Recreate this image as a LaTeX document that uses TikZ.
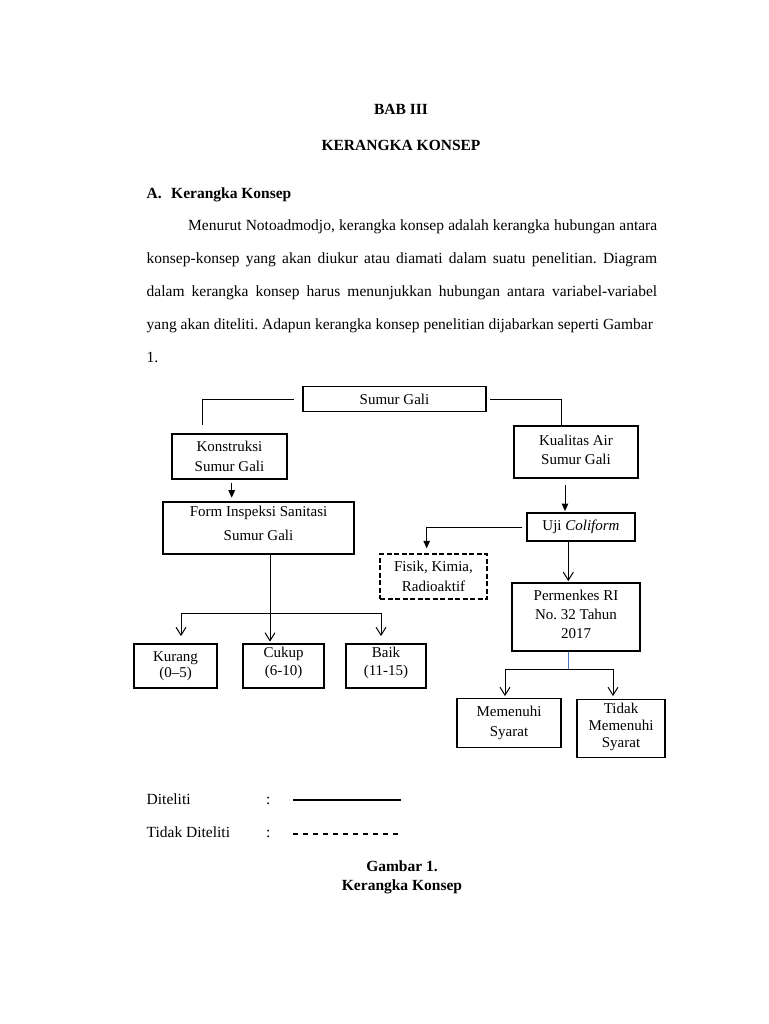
\documentclass[tikz,border=0pt]{standalone}
\usepackage{fontspec}
\setmainfont{Liberation Serif}
\usetikzlibrary{arrows.meta,calc}
\definecolor{linkblue}{RGB}{68,120,200}
\frenchspacing
\begin{document}
\begin{tikzpicture}[x=1pt,y=-1pt,
  txt/.style={inner sep=0pt,font=\fontsize{15.5}{20}\selectfont},
  boxn/.style={draw,line width=1.8pt,inner sep=0pt,align=center,font=\fontsize{15}{20}\selectfont},
  dboxn/.style={boxn,dash pattern=on 5pt off 2.5pt},
  conn/.style={line width=1pt},
  farrow/.style={conn,-{Triangle[length=7.5pt,width=6.5pt]}},
  oarrow/.style={conn,-{Straight Barb[length=8pt,width=10pt]}}]
\useasboundingbox (0,0) rectangle (768,1024);
\fill[white] (0,0) rectangle (768,1024);

% headings
\node[txt,anchor=base] (bab) at (401,115) {\bfseries BAB III};
\node[txt,anchor=base] (kk) at (401,151) {\bfseries KERANGKA KONSEP};
\node[txt,anchor=base west] (secA) at (146.5,199) {\bfseries A.};
\node[txt,anchor=base west] (secT) at (171,199) {\bfseries Kerangka Konsep};

% paragraph
\node[txt,anchor=base west] (p1) at (188,230) {\makebox[469pt][s]{Menurut Notoadmodjo, kerangka konsep adalah kerangka hubungan antara}};
\node[txt,anchor=base west] (p2) at (146.5,263) {\makebox[510.5pt][s]{konsep-konsep yang akan diukur atau diamati dalam suatu penelitian. Diagram}};
\node[txt,anchor=base west] (p3) at (146.5,296) {\makebox[510.5pt][s]{dalam kerangka konsep harus menunjukkan hubungan antara variabel-variabel}};
\node[txt,anchor=base west] (p4) at (146.5,329) {yang akan diteliti. Adapun kerangka konsep penelitian dijabarkan seperti Gambar};
\node[txt,anchor=base west] (p5) at (146.5,362) {1.};

% boxes
\node[boxn,minimum width=183pt,minimum height=25pt] (sg) at (394.5,399) {Sumur Gali};
\node[boxn,minimum width=115pt,minimum height=45pt] (ks) at (229.5,456.5) {Konstruksi\\Sumur Gali};
\node[boxn,minimum width=124pt,minimum height=52pt,font=\fontsize{15}{18.5}\selectfont] (ka) at (576,452) {Kualitas Air\\Sumur Gali\rule[-4pt]{0pt}{0pt}};
\node[boxn,minimum width=191pt,minimum height=52pt,font=\fontsize{15}{24}\selectfont] (fi) at (258.5,528) {Form Inspeksi Sanitasi\\Sumur Gali\rule[-10pt]{0pt}{0pt}};
\node[boxn,minimum width=108pt,minimum height=28pt] (uc) at (581,527) {Uji \textit{Coliform}};
\node[dboxn,minimum width=107pt,minimum height=45pt] (fk) at (433.5,576.7) {Fisik, Kimia,\\Radioaktif};
\node[boxn,minimum width=128pt,minimum height=68pt,font=\fontsize{15}{19}\selectfont] (pr) at (576,617) {Permenkes RI\\No. 32 Tahun\\2017\rule[-6pt]{0pt}{0pt}};
\node[boxn,minimum width=83pt,minimum height=44pt,font=\fontsize{15}{16}\selectfont] (ku) at (175.5,666) {Kurang\\(0–5)};
\node[boxn,minimum width=81pt,minimum height=44pt,font=\fontsize{15}{18}\selectfont] (cu) at (283.5,666) {Cukup\\(6-10)\rule[-10pt]{0pt}{0pt}};
\node[boxn,minimum width=80pt,minimum height=44pt,font=\fontsize{15}{18}\selectfont] (ba) at (386,666) {Baik\\(11-15)\rule[-10pt]{0pt}{0pt}};
\node[boxn,minimum width=104pt,minimum height=49pt] (me) at (509,723) {Memenuhi\\Syarat};
\node[boxn,minimum width=88pt,minimum height=58pt,font=\fontsize{15}{17}\selectfont] (tm) at (621,728.5) {Tidak\\Memenuhi\\Syarat\rule[-6pt]{0pt}{0pt}};

% connectors
\draw[conn] ([xshift=-8pt]sg.west) -| ([xshift=-27.5pt,yshift=8.5pt]ks.north);
\draw[conn] ([xshift=3pt]sg.east) -| ([xshift=-15pt]ka.north);
\draw[farrow] ([xshift=2.2pt,yshift=-3pt]ks.south) -- ([xshift=-26.8pt,yshift=3.4pt]fi.north);
\draw[farrow] ([xshift=-11pt,yshift=-6pt]ka.south) -- ([xshift=-16pt,yshift=1pt]uc.north);
\draw[farrow] ([xshift=-4pt]uc.west) -| ([xshift=-6.8pt,yshift=5pt]fk.north);
\draw[oarrow] ([xshift=-12.7pt]uc.south) -- ([xshift=-7.7pt,yshift=1pt]pr.north);

\draw[oarrow] ([xshift=11.5pt]fi.south) -- ([xshift=-13.5pt,yshift=1.5pt]cu.north);
\coordinate (bar) at (270,613);
\draw[oarrow] (bar) -| ([xshift=5.5pt,yshift=7pt]ku.north);
\draw[oarrow] (bar) -| ([xshift=-5pt,yshift=7pt]ba.north);

\coordinate (jb) at (568,669.3);
\draw[conn,linkblue] ([xshift=-8pt]pr.south) -- (jb);
\draw[oarrow] (jb) -| ([xshift=-4pt,yshift=1.5pt]me.north);
\draw[oarrow] (jb) -| ([xshift=-8pt,yshift=2.5pt]tm.north);

% legend
\node[txt,anchor=base west] (ld) at (146.5,804) {Diteliti};
\node[txt,anchor=base west] (ldc) at (266,804) {:};
\coordinate (ls1) at (293,800);
\coordinate (ls2) at (401,800);
\draw[line width=1.2pt] (ls1) -- (ls2);
\node[txt,anchor=base west] (lt) at (146.5,837) {Tidak Diteliti};
\node[txt,anchor=base west] (ltc) at (266,837) {:};
\coordinate (lt1) at (293,834);
\coordinate (lt2) at (398,834);
\draw[line width=1.1pt,dash pattern=on 5pt off 5pt] (lt1) -- (lt2);

% caption
\node[txt,anchor=base] (cap1) at (402,871) {\bfseries Gambar 1.};
\node[txt,anchor=base] (cap2) at (402,890) {\bfseries Kerangka Konsep};
\end{tikzpicture}
\end{document}
